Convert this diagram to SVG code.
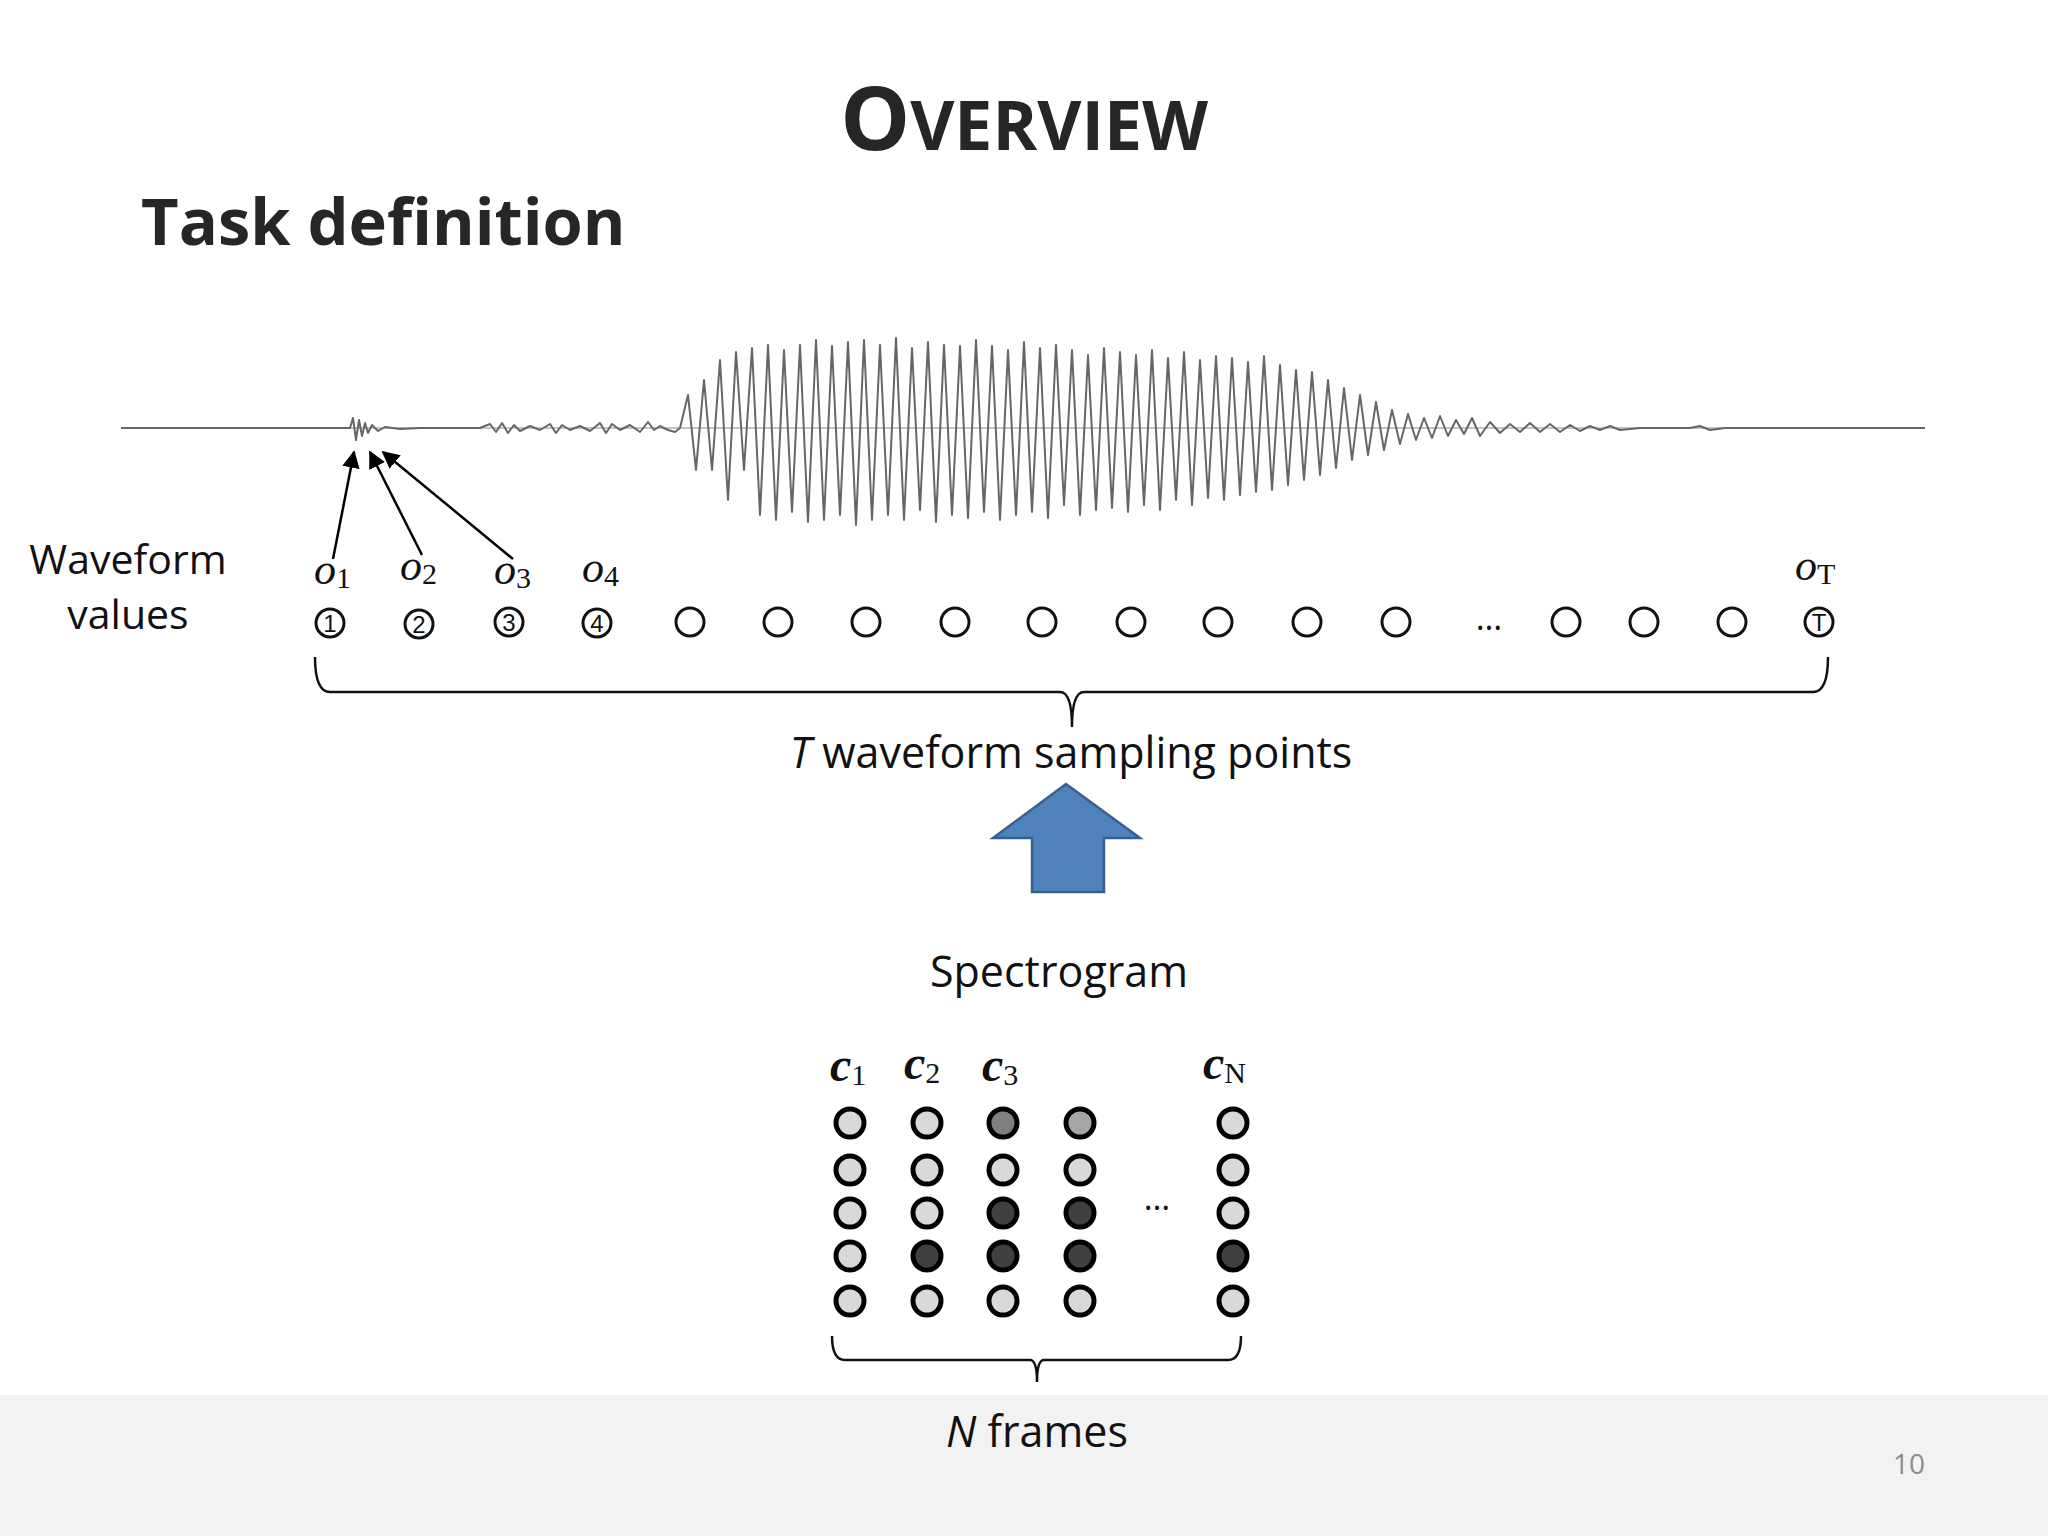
<svg xmlns="http://www.w3.org/2000/svg" width="2048" height="1536" viewBox="0 0 2048 1536">
<style>
text{font-family:"Open Sans","Liberation Sans",sans-serif;fill:#111}
.m{font-family:"Liberation Serif",serif;font-style:italic;font-size:44px}
.sub{font-style:normal;font-size:30px}
.cb{font-family:"Liberation Serif",serif;font-style:italic;font-weight:bold;font-size:48px}
.wc{fill:#fff;stroke:#111;stroke-width:3}
.num{font-family:"Liberation Sans",sans-serif;font-size:24px;text-anchor:middle}
.sc{stroke:#000;stroke-width:5}
.br{fill:none;stroke:#111;stroke-width:2.5}
</style>
<defs><marker id="ah" viewBox="0 0 10 10" refX="9" refY="5" markerWidth="7" markerHeight="7" orient="auto"><path d="M0,0L10,5L0,10z" fill="#000"/></marker></defs>
<rect x="0" y="1395" width="2048" height="141" fill="#f2f2f2"/>
<text x="1024" y="150" text-anchor="middle" font-weight="bold" style="fill:#262626"><tspan font-size="88">O</tspan><tspan font-size="68">VERVIEW</tspan></text>
<text x="141" y="245" font-size="65" font-weight="bold" style="fill:#262626">Task definition</text>
<g id="waveform" fill="none" stroke-linejoin="round">
<line x1="121" y1="428" x2="1925" y2="428" stroke="#b8c8cc" stroke-width="2"/>
<polyline stroke="#666" stroke-width="2" points="121,428 350,428 353,418 356,440 359,420 362,436 365,423 368,433 372,425 378,431 385,427 400,429 420,428 480,428 490,424 496,432 502,423 508,433 514,425 520,431 530,426 540,430 550,424 556,433 562,425 570,430 580,426 590,431 600,423 606,433 612,424 620,430 630,425 640,432 648,422 654,430 660,426 668,430 675,432 680,428 688,395 696,470 704,380 712,470 720,360 728,500 736,352 744,470 752,348 760,515 768,345 776,520 784,350 792,512 800,345 808,522 816,340 824,520 832,346 840,515 848,342 856,525 864,340 872,520 880,345 888,515 896,338 904,520 912,348 920,510 928,342 936,522 944,345 952,515 960,346 968,518 976,340 984,512 992,346 1000,520 1008,350 1016,515 1024,342 1032,512 1040,348 1048,518 1056,345 1064,505 1072,350 1080,515 1088,355 1096,510 1104,348 1112,508 1120,352 1128,512 1136,355 1144,505 1152,350 1160,510 1168,358 1176,500 1184,352 1192,505 1200,360 1208,498 1216,356 1224,500 1232,358 1240,495 1248,362 1256,492 1264,356 1272,490 1280,365 1288,485 1296,370 1304,480 1312,372 1320,475 1328,380 1336,468 1344,388 1352,460 1360,395 1368,455 1376,402 1384,450 1392,410 1400,444 1408,414 1416,440 1424,418 1432,438 1440,416 1448,436 1456,420 1464,434 1472,418 1480,436 1490,422 1500,433 1510,424 1520,432 1530,423 1540,432 1550,424 1560,432 1570,425 1580,431 1590,426 1600,430 1610,426 1620,430 1640,428 1690,428 1700,426 1710,430 1725,428 1925,428"/>
</g>
<text x="128" y="574" font-size="41" text-anchor="middle">Waveform</text>
<text x="128" y="629" font-size="41" text-anchor="middle">values</text>
<g id="connectors" stroke="#000" stroke-width="2.5" marker-end="url(#ah)">
<line x1="333" y1="559" x2="354" y2="452"/>
<line x1="422" y1="555" x2="370" y2="452"/>
<line x1="513" y1="559" x2="383" y2="452"/>
</g>
<g id="labels">
<text class="m" x="314" y="584">o<tspan class="sub" dy="4">1</tspan></text>
<text class="m" x="400" y="580">o<tspan class="sub" dy="4">2</tspan></text>
<text class="m" x="494" y="584">o<tspan class="sub" dy="4">3</tspan></text>
<text class="m" x="582" y="582">o<tspan class="sub" dy="4">4</tspan></text>
<text class="m" x="1795" y="580">o<tspan class="sub" dy="4" font-style="italic">T</tspan></text>
</g>
<g id="samples">
<circle class="wc" cx="330" cy="623" r="14"/><text class="num" x="330" y="632">1</text>
<circle class="wc" cx="419" cy="624" r="14"/><text class="num" x="419" y="633">2</text>
<circle class="wc" cx="509" cy="622" r="14"/><text class="num" x="509" y="631">3</text>
<circle class="wc" cx="597" cy="623" r="14"/><text class="num" x="597" y="632">4</text>
<circle class="wc" cx="690" cy="622" r="14"/><circle class="wc" cx="778" cy="622" r="14"/><circle class="wc" cx="866" cy="622" r="14"/><circle class="wc" cx="955" cy="622" r="14"/><circle class="wc" cx="1042" cy="622" r="14"/><circle class="wc" cx="1131" cy="622" r="14"/><circle class="wc" cx="1218" cy="622" r="14"/><circle class="wc" cx="1307" cy="622" r="14"/><circle class="wc" cx="1396" cy="622" r="14"/>
<text x="1489" y="630" font-size="34" text-anchor="middle">…</text>
<circle class="wc" cx="1566" cy="622" r="14"/><circle class="wc" cx="1644" cy="622" r="14"/><circle class="wc" cx="1732" cy="622" r="14"/>
<circle class="wc" cx="1819" cy="622" r="14"/><text class="num" x="1819" y="631">T</text>
</g>
<path class="br" d="M315,657 Q315,692 330,692 L1060,692 Q1072,692 1072,727 Q1072,692 1084,692 L1813,692 Q1828,692 1828,657"/>
<text x="1071" y="768" font-size="43" text-anchor="middle"><tspan font-style="italic">T</tspan> waveform sampling points</text>
<polygon id="bigarrow" points="1066,784 1140,838 1104,838 1104,892 1032,892 1032,838 993,838" fill="#4f81bd" stroke="#3a5f8f" stroke-width="2.5"/>
<text x="1059" y="987" font-size="43" text-anchor="middle">Spectrogram</text>
<g id="frames">
<text class="cb" x="830" y="1081">c<tspan class="sub" font-weight="normal" dy="4">1</tspan></text>
<text class="cb" x="904" y="1079">c<tspan class="sub" font-weight="normal" dy="4">2</tspan></text>
<text class="cb" x="982" y="1081">c<tspan class="sub" font-weight="normal" dy="4">3</tspan></text>
<text class="cb" x="1203" y="1079">c<tspan class="sub" font-weight="normal" font-style="italic" dy="4">N</tspan></text>
<g class="sc">
<circle cx="850" cy="1123" r="14" fill="#d9d9d9"/><circle cx="850" cy="1170" r="14" fill="#d9d9d9"/><circle cx="850" cy="1213" r="14" fill="#d9d9d9"/><circle cx="850" cy="1256" r="14" fill="#d9d9d9"/><circle cx="850" cy="1301" r="14" fill="#d9d9d9"/>
<circle cx="927" cy="1123" r="14" fill="#d9d9d9"/><circle cx="927" cy="1170" r="14" fill="#d9d9d9"/><circle cx="927" cy="1213" r="14" fill="#d9d9d9"/><circle cx="927" cy="1256" r="14" fill="#404040"/><circle cx="927" cy="1301" r="14" fill="#d9d9d9"/>
<circle cx="1003" cy="1123" r="14" fill="#808080"/><circle cx="1003" cy="1170" r="14" fill="#d9d9d9"/><circle cx="1003" cy="1213" r="14" fill="#404040"/><circle cx="1003" cy="1256" r="14" fill="#404040"/><circle cx="1003" cy="1301" r="14" fill="#d9d9d9"/>
<circle cx="1080" cy="1123" r="14" fill="#a6a6a6"/><circle cx="1080" cy="1170" r="14" fill="#d9d9d9"/><circle cx="1080" cy="1213" r="14" fill="#404040"/><circle cx="1080" cy="1256" r="14" fill="#404040"/><circle cx="1080" cy="1301" r="14" fill="#d9d9d9"/>
<circle cx="1233" cy="1123" r="14" fill="#d9d9d9"/><circle cx="1233" cy="1170" r="14" fill="#d9d9d9"/><circle cx="1233" cy="1213" r="14" fill="#d9d9d9"/><circle cx="1233" cy="1256" r="14" fill="#404040"/><circle cx="1233" cy="1301" r="14" fill="#d9d9d9"/>
</g>
<text x="1157" y="1210" font-size="34" text-anchor="middle">…</text>
</g>
<path class="br" d="M832,1336 Q832,1360 845,1360 L1030,1360 Q1037,1360 1037,1382 Q1037,1360 1044,1360 L1228,1360 Q1241,1360 1241,1336"/>
<text x="1037" y="1447" font-size="43" text-anchor="middle"><tspan font-style="italic">N</tspan> frames</text>
<text x="1909" y="1474" font-size="28" text-anchor="middle" style="fill:#8c8c8c">10</text>
</svg>
